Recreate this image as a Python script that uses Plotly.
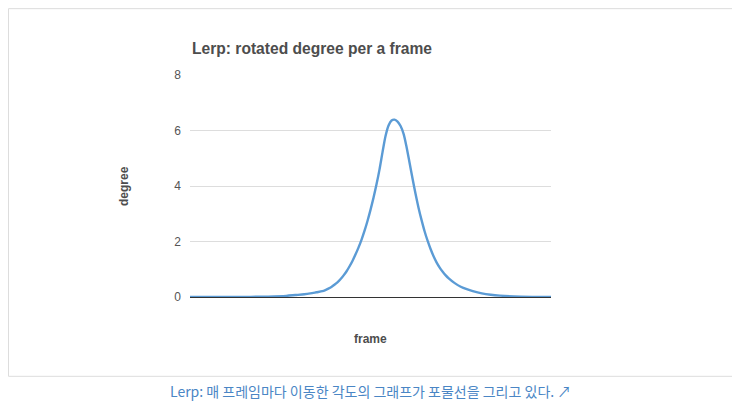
import plotly.graph_objects as go

# values
frames = [0, 10, 20, 26, 32, 35, 38, 40, 42, 44, 45, 46, 47, 48, 49, 50, 51,
          52, 53, 54, 55, 56, 57, 58, 59, 60, 61, 62, 63, 64, 65, 66, 67, 68,
          69, 70, 71, 72, 73, 74, 75, 76, 77, 78, 79, 80, 81, 82, 83, 84, 85,
          86, 88, 90, 92, 94, 97, 100, 103, 110, 120]
degrees = [0.0, 0.001, 0.006, 0.015, 0.04, 0.07, 0.1, 0.13, 0.17, 0.21, 0.25,
           0.3, 0.36, 0.44, 0.53, 0.64, 0.77, 0.92, 1.1, 1.3, 1.53, 1.78,
           2.06, 2.38, 2.74, 3.14, 3.58, 4.06, 4.6, 5.22, 5.8, 6.18, 6.36,
           6.39, 6.32, 6.16, 5.88, 5.4, 4.83, 4.25, 3.7, 3.2, 2.76, 2.36,
           2.02, 1.72, 1.46, 1.24, 1.06, 0.91, 0.78, 0.67, 0.5, 0.37, 0.28,
           0.21, 0.13, 0.08, 0.05, 0.015, 0.0]
y_ticks = [0, 2, 4, 6, 8]

title_text = "Lerp: rotated degree per a frame"
caption = "Lerp: 매 프레임마다 이동한 각도의 그래프가 포물선을 그리고 있다. ↗"

font = "Liberation Sans, Arial, sans-serif"

# the page puts the figure 8px in from the corner
W, H = 732, 401
L, T = 182, 67
PW, PH = 361, 222.5
R, B = W - L - PW, H - T - PH


def px(x):
    return (x - L) / PW


def py(y):
    return (T + PH - y) / PH


fig = go.Figure()
fig.add_trace(go.Scatter(
    x=frames, y=degrees, mode="lines",
    line=dict(color="#5b9bd5", width=2.4, shape="spline", smoothing=0.8),
    hoverinfo="x+y", showlegend=False,
))

fig.update_layout(
    width=W, height=H,
    margin=dict(l=L, r=R, t=T, b=B),
    paper_bgcolor="white", plot_bgcolor="white",
    font=dict(family=font, size=12, color="#444"),
    xaxis=dict(range=[0, 120], showticklabels=False, showgrid=False,
               zeroline=False, showline=False, ticks=""),
    yaxis=dict(range=[0, 8], tickvals=y_ticks, showgrid=True,
               gridcolor="#dddddd", gridwidth=1, zeroline=True,
               zerolinecolor="#333", zerolinewidth=1, showline=False,
               ticks="", ticklabelstandoff=8,
               tickfont=dict(family=font, size=12, color="#555")),
    shapes=[
        # outer frame box
        dict(type="rect", xref="paper", yref="paper",
             x0=px(0.5), x1=px(727), y0=py(369), y1=py(0.5),
             line=dict(color="#dddddd", width=1), layer="below"),
    ],
    annotations=[
        dict(text="<b>" + title_text + "</b>", xref="paper", yref="paper",
             x=0, y=py(40), xanchor="left", yanchor="middle", showarrow=False,
             font=dict(family=font, size=15.6, color="#4d4d4d")),
        dict(text="<b>degree</b>", xref="paper", yref="paper",
             x=px(116), y=0.5, textangle=-90, xanchor="center",
             yanchor="middle", showarrow=False,
             font=dict(family=font, size=12, color="#4d4d4d")),
        dict(text="<b>frame</b>", xref="paper", yref="paper",
             x=px(362), y=py(332), xanchor="center", yanchor="middle",
             showarrow=False, font=dict(family=font, size=12, color="#4d4d4d")),
        dict(text=caption, xref="paper", yref="paper",
             x=px(362), y=py(384), xanchor="center", yanchor="middle",
             showarrow=False,
             font=dict(family="Noto Sans CJK KR, sans-serif", size=14,
                       color="#4a86c5")),
    ],
)

fig.write_html("out.html")
